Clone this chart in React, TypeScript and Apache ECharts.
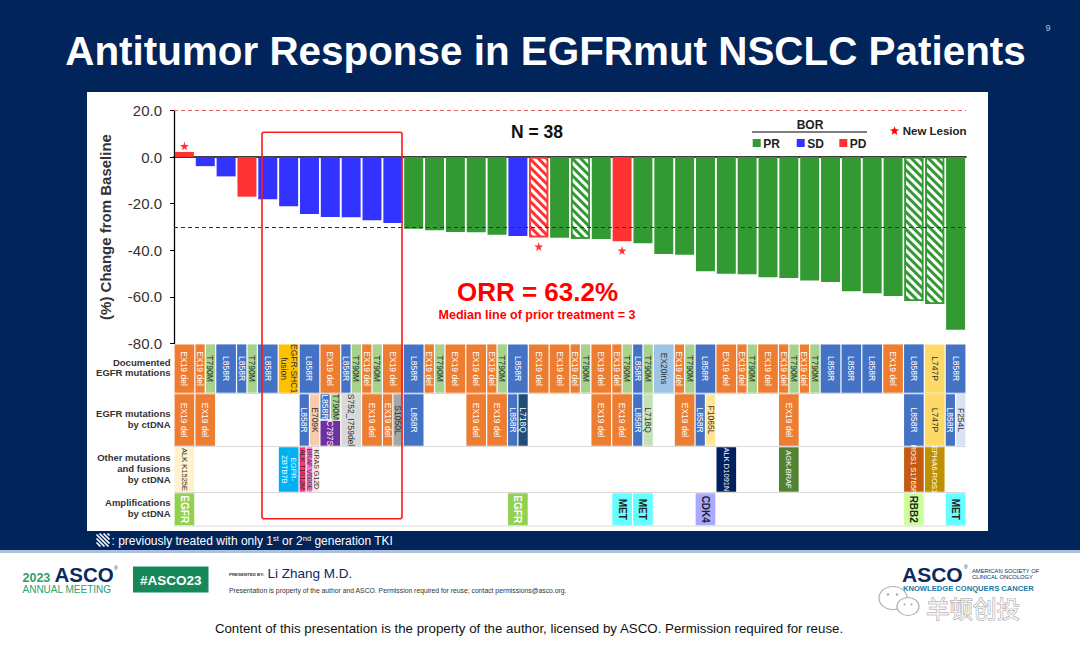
import React, { useEffect, useRef } from 'react';
import * as echarts from 'echarts';

// ---------------- DATA ----------------
const patientIds = [
  '1', '2', '3', '4', '5', '6', '7', '8', '9', '10',
  '11', '12', '13', '14', '15', '16', '17', '18', '19', '20',
  '21', '22', '23', '24', '25', '26', '27', '28', '29', '30',
  '31', '32', '33', '34', '35', '36', '37', '38',
];

const changeFromBaseline = [
  2.2, -3.9, -8.3, -17.0, -18.1, -21.1, -24.4, -25.7, -25.8, -27.1,
  -28.3, -30.7, -31.4, -32.1, -32.3, -33.3, -33.9, -34.4, -34.6, -35.0,
  -35.1, -36.1, -37.0, -41.6, -41.9, -49.0, -50.1, -50.3, -51.6, -51.9,
  -52.9, -53.6, -57.6, -58.4, -59.6, -61.7, -63.0, -74.1,
];

const bestResponse = [
  'PD', 'SD', 'SD', 'PD', 'SD', 'SD', 'SD', 'SD', 'SD', 'SD',
  'SD', 'PR', 'PR', 'PR', 'PR', 'PR', 'SD', 'PD', 'PR', 'PR',
  'PR', 'PD', 'PR', 'PR', 'PR', 'PR', 'PR', 'PR', 'PR', 'PR',
  'PR', 'PR', 'PR', 'PR', 'PR', 'PR', 'PR', 'PR',
];

const priorFirstSecondGenOnly = [18, 20, 36, 37];
const newLesion = [1, 18, 22];

const yMin = -80;
const yMax = 20;
const yStep = 20;
const prLine = -30;

const rowLabels = [
  'Documented\nEGFR mutations',
  'EGFR mutations\nby ctDNA',
  'Other mutations\nand fusions\nby ctDNA',
  'Amplifications\nby ctDNA',
];

// "|" = side by side, "/" = stacked
const documentedEGFR = [
  'EX19 del', 'EX19 del|T790M', 'L858R', 'L858R|T790M', 'L858R', 'EGFR-SHC1\nfusion', 'L858R', 'EX19 del', 'L858R|T790M', 'EX19 del|T790M',
  'EX19 del', 'L858R', 'EX19 del|T790M', 'EX19 del', 'EX19 del', 'EX19 del|T790M', 'L858R', 'EX19 del', 'EX19 del', 'EX19 del|T790M',
  'EX19 del', 'EX19 del|T790M', 'L858R|T790M', 'EX20ins', 'EX19 del|T790M', 'L858R', 'EX19 del', 'EX19 del|T790M', 'EX19 del', 'EX19 del|T790M',
  'EX19 del|T790M', 'L858R', 'L858R', 'L858R', 'EX19 del', 'L858R', 'L747P', 'L858R',
];

const ctDNAEGFR = [
  'EX19 del', 'EX19 del', '', '', '', '', 'L858R|E709K', 'L858R|T790M/C797S', 'S752_I759del', 'EX19 del',
  'EX19 del|S1050L', 'L858R', '', '', 'EX19 del', 'EX19 del', 'L858R|L718Q', '', '', '',
  'EX19 del', 'EX19 del', 'L858R|L718Q#b', '', 'EX19 del', 'L858R|F1065L', '', '', '', 'EX19 del',
  '', '', '', '', '', 'L858R', 'L747P', 'L858R|F254L',
];

const ctDNAOther = [
  'ALK K1525E', '', '', '', '', 'EGFR-\nZBTB7B', 'ALK T1012M|BRAF V600E|KRAS G12D', '', '', '',
  '', '', '', '', '', '', '', '', '', '',
  '', '', '', '', '', '', 'ALK D1091N', '', '', 'AGK-BRAF',
  '', '', '', '', '', 'ROS1 S1765R', 'EPHA6-ROS1', '',
];

const ctDNAAmp = [
  'EGFR', '', '', '', '', '', '', '', '', '',
  '', '', '', '', '', '', 'EGFR', '', '', '',
  '', 'MET', 'MET', '', '', 'CDK4', '', '', '', '',
  '', '', '', '', '', 'RBB2', '', 'MET',
];

// ---------------- STYLE ----------------
const FONT = '"Liberation Sans", Arial, Helvetica, sans-serif';
const NAVY = '#01245a';
const BOR_COLORS: Record<string, string> = { PR: '#339933', SD: '#3333FF', PD: '#FF3333' };

const cellColors: Record<string, [string, string]> = {
  'EX19 del': ['#ED7D31', '#ffffff'],
  'L858R': ['#4472C4', '#ffffff'],
  'T790M': ['#A9D18E', '#1f2f1f'],
  'EGFR-SHC1\nfusion': ['#FFC000', '#333333'],
  'E709K': ['#F8CBAD', '#333333'],
  'C797S': ['#7030A0', '#ffffff'],
  'S752_I759del': ['#D9D9D9', '#333333'],
  'S1050L': ['#A5A5A5', '#333333'],
  'L718Q': ['#1F4E79', '#ffffff'],
  'L718Q#b': ['#C5E0B4', '#333333'],
  'EX20ins': ['#9DC3E6', '#333333'],
  'F1065L': ['#FFE699', '#333333'],
  'L747P': ['#FFD966', '#333333'],
  'F254L': ['#DAE3F3', '#333333'],
  'ALK K1525E': ['#FFF2CC', '#333333'],
  'EGFR-\nZBTB7B': ['#00B0F0', '#ffffff'],
  'ALK T1012M': ['#FF3377', '#333333'],
  'BRAF V600E': ['#FF77D0', '#333333'],
  'KRAS G12D': ['#FBE5D6', '#333333'],
  'ALK D1091N': ['#002060', '#ffffff'],
  'AGK-BRAF': ['#548235', '#ffffff'],
  'ROS1 S1765R': ['#C55A11', '#ffffff'],
  'EPHA6-ROS1': ['#BF9000', '#ffffff'],
  'EGFR': ['#92D050', '#ffffff'],
  'MET': ['#66FFFF', '#222222'],
  'CDK4': ['#A9A9FF', '#222222'],
  'RBB2': ['#CCFF99', '#222222'],
};

// layout
const GRID_LEFT = 174;
const GRID_WIDTH = 792;
const BAR_TOP = 110.4;
const BAR_HEIGHT = 233.2;
const TABLE_TOP = BAR_TOP + BAR_HEIGHT;
const ROW_HEIGHTS = [49.9, 53, 46, 33.5];
const TABLE_HEIGHT = ROW_HEIGHTS.reduce((a, b) => a + b, 0);
const ROW_FONT = [8.5, 8.5, 7.5, 10];

const rows = [documentedEGFR, ctDNAEGFR, ctDNAOther, ctDNAAmp];
const cells: { i: number; r: number; spec: string }[] = [];
rows.forEach((row, r) => row.forEach((spec, i) => { if (spec) cells.push({ i, r, spec }); }));

const STAR_PATH = 'path://M50,0 L61,35 L98,35 L68,57 L79,91 L50,70 L21,91 L32,57 L2,35 L39,35 Z';

function txt(x: number, y: number, text: string, font: string, fill: string, align = 'left', extra: any = {}) {
  return {
    type: 'text', x, y, silent: true, z: 20,
    style: { text, font, fill, align, textAlign: align, verticalAlign: 'middle', textVerticalAlign: 'middle', ...extra },
  };
}

function starPoints(cx: number, cy: number, R: number) {
  const pts: number[][] = [];
  for (let k = 0; k < 10; k++) {
    const rr = k % 2 === 0 ? R : R * 0.42;
    const a = -Math.PI / 2 + (k * Math.PI) / 5;
    pts.push([cx + rr * Math.cos(a), cy + rr * Math.sin(a)]);
  }
  return pts;
}

function hatchIcon(x: number, y: number, s: number, color: string) {
  const els: any[] = [{ type: 'rect', shape: { x, y, width: s, height: s }, style: { fill: NAVY }, z: 20 }];
  for (let c = -s + 2; c < s; c += 4) {
    const x1 = Math.max(0, -c), y1 = x1 + c;
    const x2 = Math.min(s, s - c), y2 = x2 + c;
    els.push({ type: 'line', shape: { x1: x + x1, y1: y + y1, x2: x + x2, y2: y + y2 }, style: { stroke: color, lineWidth: 1.7 }, z: 21 });
  }
  return els;
}

function buildOption(): any {
  const graphic: any[] = [];
  // slide backgrounds
  graphic.push({ type: 'rect', shape: { x: 0, y: 0, width: 1080, height: 550 }, style: { fill: NAVY }, z: -10, silent: true });
  graphic.push({ type: 'rect', shape: { x: 0, y: 550, width: 1080, height: 3 }, style: { fill: '#aebfdc' }, z: -10, silent: true });
  graphic.push({ type: 'rect', shape: { x: 87, y: 92, width: 901, height: 439 }, style: { fill: '#ffffff' }, z: -9, silent: true });

  // title
  graphic.push(txt(545.5, 51, 'Antitumor Response in EGFRmut NSCLC Patients', `bold 40.4px ${FONT}`, '#ffffff', 'center'));
  graphic.push(txt(1048, 28, '9', `9px ${FONT}`, '#b8c4d8', 'center'));

  // annotations
  graphic.push(txt(537, 132, 'N = 38', `bold 17.5px ${FONT}`, '#111111', 'center'));
  graphic.push(txt(537.5, 292, 'ORR = 63.2%', `bold 26px ${FONT}`, '#FF0000', 'center'));
  graphic.push(txt(537, 315, 'Median line of prior treatment = 3', `bold 12.5px ${FONT}`, '#FF0000', 'center'));

  // BOR legend
  graphic.push(txt(810, 125, 'BOR', `bold 12px ${FONT}`, '#222222', 'center'));
  graphic.push({ type: 'line', shape: { x1: 752, y1: 132, x2: 867, y2: 132 }, style: { stroke: '#555555', lineWidth: 1.5 }, z: 20 });
  const legendItems: [string, number][] = [['PR', 752.7], ['SD', 796.7], ['PD', 839.3]];
  legendItems.forEach(([k, x]) => {
    graphic.push({ type: 'rect', shape: { x, y: 139, width: 8, height: 8 }, style: { fill: BOR_COLORS[k] }, z: 20 });
    graphic.push(txt(x + 10.5, 143.5, k, `bold 12px ${FONT}`, '#222222', 'left'));
  });
  graphic.push({ type: 'polygon', shape: { points: starPoints(894.5, 131, 4.8) }, style: { fill: '#FF0000' }, z: 20 });
  graphic.push(txt(902.7, 131, 'New Lesion', `bold 11.5px ${FONT}`, '#222222', 'left'));

  // highlight box
  graphic.push({ type: 'rect', shape: { x: 262, y: 132.3, width: 140, height: 386.5, r: 2 }, style: { fill: 'none', stroke: '#FF1A1A', lineWidth: 1.6 }, z: 100, silent: true });

  // table row labels and separators
  let acc = TABLE_TOP;
  ROW_HEIGHTS.forEach((h, r) => {
    graphic.push(txt(170.5, acc + h / 2 - 1, rowLabels[r], `bold 9.5px ${FONT}`, '#333333', 'right', { lineHeight: 10.8 }));
    acc += h;
    graphic.push({ type: 'line', shape: { x1: GRID_LEFT, y1: acc, x2: GRID_LEFT + GRID_WIDTH, y2: acc }, style: { stroke: '#d9d9d9', lineWidth: 1.2 }, z: 1 });
  });

  // footnote
  hatchIcon(96.5, 533.5, 13, '#ffffff').forEach((e) => graphic.push(e));
  graphic.push(txt(111.5, 540.5, ': previously treated with only 1{sup|st} or 2{sup|nd} generation TKI', `12px ${FONT}`, '#ffffff', 'left', {
    rich: { sup: { fontSize: 7.5, fill: '#ffffff', fontFamily: 'Liberation Sans', verticalAlign: 'top', lineHeight: 13 } },
    lineHeight: 13,
  }));

  // footer left
  graphic.push(txt(22.5, 577.5, '2023', `bold 12.5px ${FONT}`, '#2e9e6b', 'left'));
  graphic.push(txt(54.5, 574.5, 'ASCO', `bold 20.5px ${FONT}`, '#0b2a5e', 'left'));
  graphic.push(txt(114, 568, '®', `5px ${FONT}`, '#0b2a5e', 'left'));
  graphic.push(txt(22.5, 589.5, 'ANNUAL MEETING', `10px ${FONT}`, '#2e9e6b', 'left'));
  graphic.push({ type: 'rect', shape: { x: 133, y: 566.5, width: 75.5, height: 26 }, style: { fill: '#18875a' }, z: 19 });
  graphic.push(txt(170.75, 580, '#ASCO23', `bold 13.5px ${FONT}`, '#ffffff', 'center'));
  graphic.push(txt(229, 574.5, 'PRESENTED BY:', `bold 4.4px ${FONT}`, '#333333', 'left'));
  graphic.push(txt(267.5, 573, 'Li Zhang M.D.', `13.5px ${FONT}`, '#0b2a5e', 'left'));
  graphic.push(txt(229, 590, 'Presentation is property of the author and ASCO. Permission required for reuse; contact permissions@asco.org.', `6.8px ${FONT}`, '#333333', 'left'));

  // footer right
  graphic.push(txt(902, 574, 'ASCO', `bold 21px ${FONT}`, '#0b2a5e', 'left'));
  graphic.push(txt(964, 566.5, '®', `5px ${FONT}`, '#0b2a5e', 'left'));
  graphic.push(txt(972, 570.5, 'AMERICAN SOCIETY OF', `5.8px ${FONT}`, '#0b2a5e', 'left'));
  graphic.push(txt(972, 577, 'CLINICAL ONCOLOGY', `5.8px ${FONT}`, '#0b2a5e', 'left'));
  graphic.push(txt(903, 588.8, 'KNOWLEDGE CONQUERS CANCER', `bold 7.6px ${FONT}`, '#1b78a8', 'left'));
  // watermark
  graphic.push({ type: 'ellipse', shape: { cx: 893, cy: 598, rx: 14, ry: 11.5 }, style: { fill: 'rgba(255,255,255,0.85)', stroke: '#b0b0b0', lineWidth: 1.2 }, z: 30 });
  graphic.push({ type: 'ellipse', shape: { cx: 908, cy: 606.5, rx: 11, ry: 9 }, style: { fill: 'rgba(255,255,255,0.95)', stroke: '#b0b0b0', lineWidth: 1.2 }, z: 31 });
  graphic.push({ type: 'circle', shape: { cx: 888, cy: 594.5, r: 1.3 }, style: { fill: '#b0b0b0' }, z: 32 });
  graphic.push({ type: 'circle', shape: { cx: 897, cy: 594.5, r: 1.3 }, style: { fill: '#b0b0b0' }, z: 32 });
  graphic.push({ type: 'circle', shape: { cx: 904.5, cy: 604.5, r: 1.1 }, style: { fill: '#b0b0b0' }, z: 32 });
  graphic.push({ type: 'circle', shape: { cx: 911.5, cy: 604.5, r: 1.1 }, style: { fill: '#b0b0b0' }, z: 32 });
  const wm = txt(926, 607.5, '羊顿创投', `23.5px "Noto Sans CJK SC", sans-serif`, 'rgba(255,255,255,0.8)', 'left', { stroke: '#9a9a9a', lineWidth: 0.9 });
  wm.z = 32;
  graphic.push(wm);

  graphic.push(txt(529, 628.5, 'Content of this presentation is the property of the author, licensed by ASCO. Permission required for reuse.', `13.3px ${FONT}`, '#111111', 'center'));

  const barData = changeFromBaseline.map((v, k) => {
    const col = BOR_COLORS[bestResponse[k]];
    if (priorFirstSecondGenOnly.includes(k + 1)) {
      return {
        value: v,
        itemStyle: {
          color: '#ffffff', borderColor: col, borderWidth: 1.5,
          decal: { symbol: 'rect', symbolSize: 1, color: col, backgroundColor: '#ffffff', dashArrayX: [1, 0], dashArrayY: [2.2, 3], rotation: Math.PI / 4 },
        },
      };
    }
    return { value: v, itemStyle: { color: col } };
  });

  const starData = newLesion.map((p) => {
    const v = changeFromBaseline[p - 1];
    return [p - 1, v > 0 ? v + 2.5 : v - 4];
  });

  return {
    animation: false,
    backgroundColor: '#ffffff',
    textStyle: { fontFamily: FONT },
    graphic,
    grid: [
      { left: GRID_LEFT, width: GRID_WIDTH, top: BAR_TOP, height: BAR_HEIGHT, outerBoundsMode: 'none', containLabel: false },
      { left: GRID_LEFT, width: GRID_WIDTH, top: TABLE_TOP, height: TABLE_HEIGHT, outerBoundsMode: 'none', containLabel: false },
    ],
    xAxis: [
      {
        type: 'category', gridIndex: 0, data: patientIds,
        axisLine: { show: true, onZero: true, lineStyle: { color: '#000000', width: 1.6 } },
        axisTick: { show: false }, axisLabel: { show: false }, splitLine: { show: false },
      },
      {
        type: 'category', gridIndex: 1, data: patientIds,
        axisLine: { show: false }, axisTick: { show: false }, axisLabel: { show: false }, splitLine: { show: false },
      },
    ],
    yAxis: [
      {
        type: 'value', gridIndex: 0, min: yMin, max: yMax, interval: yStep,
        name: '(%) Change from Baseline', nameLocation: 'middle', nameGap: 61,
        nameTextStyle: { fontSize: 15, fontWeight: 'bold', color: '#333333', fontFamily: FONT },
        axisLine: { show: true, lineStyle: { color: '#000000', width: 1.3 } },
        axisTick: { show: true, length: 4, lineStyle: { color: '#000000' } },
        axisLabel: { fontSize: 15, color: '#333333', margin: 12, fontFamily: FONT, formatter: (v: number) => v.toFixed(1) },
        splitLine: { show: false },
      },
      {
        type: 'value', gridIndex: 1, min: 0, max: 1, show: false,
      },
    ],
    series: [
      {
        type: 'bar', xAxisIndex: 0, yAxisIndex: 0, data: barData, barCategoryGap: '9%',
        markLine: {
          silent: true, symbol: ['none', 'none'], label: { show: false },
          data: [
            { yAxis: yMax, lineStyle: { color: '#E06060', type: [4, 3], width: 1.2 } },
            { yAxis: prLine, lineStyle: { color: '#333333', type: [4, 3], width: 1.2 } },
          ],
        },
      },
      {
        type: 'scatter', xAxisIndex: 0, yAxisIndex: 0, data: starData, symbol: STAR_PATH, symbolSize: 9,
        itemStyle: { color: '#FF0000' }, z: 5, silent: true,
      },
      {
        type: 'custom', xAxisIndex: 1, yAxisIndex: 1,
        data: cells.map((c) => [c.i, 0.5]),
        encode: { x: 0, y: 1 },
        silent: true,
        renderItem: (params: any, api: any) => {
          const c = cells[params.dataIndex];
          const cs = params.coordSys;
          const cx = api.coord([c.i, 0])[0];
          const bw = api.size([1, 0])[0];
          const x0 = cx - bw / 2;
          let ry = cs.y;
          for (let k = 0; k < c.r; k++) ry += (ROW_HEIGHTS[k] / TABLE_HEIGHT) * cs.height;
          const rh = (ROW_HEIGHTS[c.r] / TABLE_HEIGHT) * cs.height;
          const parts = c.spec.split('/');
          const children: any[] = [];
          parts.forEach((part, pk) => {
            const sh = rh / parts.length;
            const sy = ry + pk * sh;
            const cols = part.split('|');
            cols.forEach((lab, j) => {
              const sw = bw / cols.length;
              const sx = x0 + j * sw;
              const [fill, tcol] = cellColors[lab] || ['#cccccc', '#333333'];
              children.push({
                type: 'rect',
                shape: { x: sx + 0.6, y: sy + 0.8, width: sw - 1.2, height: sh - 1.6 },
                style: { fill },
              });
              const fs = cols.length > 2 ? 7 : ROW_FONT[c.r];
              const display = lab.replace(/#.*$/, '');
              children.push({
                type: 'text',
                x: sx + sw / 2, y: sy + sh / 2, rotation: -Math.PI / 2,
                style: {
                  text: display, fill: tcol,
                  font: `${c.r === 3 ? 'bold ' : ''}${fs}px ${FONT}`,
                  align: 'center', textAlign: 'center', verticalAlign: 'middle', textVerticalAlign: 'middle',
                  lineHeight: fs + 1.5,
                },
              });
            });
          });
          return { type: 'group', children };
        },
      },
    ],
  };
}

export default function App() {
  const ref = useRef<HTMLDivElement>(null);
  useEffect(() => {
    const chart = echarts.init(ref.current as HTMLDivElement, null, { renderer: 'svg' });
    chart.setOption(buildOption());
    return () => chart.dispose();
  }, []);
  return <div ref={ref} style={{ position: 'fixed', left: 0, top: 0, width: 1080, height: 648 }} />;
}
